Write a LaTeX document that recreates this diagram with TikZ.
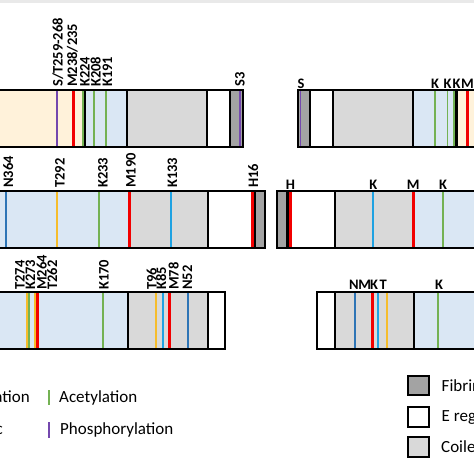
\documentclass[tikz,border=0pt]{standalone}
\usepackage{fontspec}
\setmainfont{Carlito}
\definecolor{ccream}{HTML}{FFF2DA}
\definecolor{cregb}{HTML}{DAE7F4}
\definecolor{cgray}{HTML}{D9D9D9}
\definecolor{cdark}{HTML}{A3A3A3}
\definecolor{cgreen}{HTML}{74B253}
\definecolor{cpurple}{HTML}{7448AE}
\definecolor{cred}{HTML}{F20000}
\definecolor{cyellow}{HTML}{F6BD2C}
\definecolor{cdblue}{HTML}{2E75B6}
\definecolor{clblue}{HTML}{1FA2E2}
\definecolor{cband}{HTML}{E9E9E9}
\tikzset{
  bar/.style={draw=black,line width=2.2pt},
  sepl/.style={draw=black,line width=2.1pt},
  mk/.style={line width=1.8pt},
  ace/.style={mk,draw=cgreen},
  pho/.style={mk,draw=cpurple},
  met/.style={line width=3pt,draw=cred},
  ogl/.style={mk,draw=cyellow},
  gly/.style={mk,draw=cdblue},
  ubi/.style={mk,draw=clblue},
  vlab/.style={rotate=90,anchor=base west,inner sep=0pt,font=\fontsize{14.5}{14.5}\selectfont\bfseries},
  hlab/.style={anchor=base,inner sep=0pt,font=\fontsize{14.5}{14.5}\selectfont\bfseries},
  legt/.style={anchor=base west,inner sep=0pt,font=\fontsize{17}{17}\selectfont},
  legr/.style={anchor=base east,inner sep=0pt,font=\fontsize{17}{17}\selectfont},
  legbox/.style={draw=black,line width=2.2pt},
}
\begin{document}
\begin{tikzpicture}[x=1pt,y=-1pt]
\useasboundingbox (0,0) rectangle (474,474);
\clip (0,0) rectangle (474,474);
\fill[white] (0,0) rectangle (474,474);
\fill[cband] (0,0) rectangle (474,3);

% ---------- Row 1 left ----------
\fill[ccream] (-5,90) rectangle (85,147);
\fill[cregb] (85,90) rectangle (126.7,147);
\fill[cgray] (126.7,90) rectangle (207.3,147);
\fill[cdark] (230,90) rectangle (243,147);
\foreach \x/\s in {56.7/pho,73.3/met,83/ace,94.3/ace,106/ace,240.3/pho}
  \draw[\s] (\x,90) -- (\x,147);
\foreach \x in {85,126.7,207.3,230} \draw[sepl] (\x,90) -- (\x,147);
\draw[bar] (-5,90) rectangle (243,147);
\node[vlab] (l1a) at (62.7,87) {S/T259-268};
\node[vlab] (l1b) at (77.2,87) {M238/235};
\node[vlab] (l1c) at (89.7,87) {K224};
\node[vlab] (l1d) at (100.7,87) {K208};
\node[vlab] (l1e) at (112.2,87) {K191};
\node[vlab] (l1f) at (244.7,87) {S3};

% ---------- Row 1 right ----------
\fill[cdark] (298.3,90) rectangle (310,147);
\fill[cgray] (333.3,90) rectangle (412.7,147);
\fill[cregb] (412.7,90) rectangle (456.5,147);
\fill[ccream] (456.5,90) rectangle (480,147);
\foreach \x/\s in {300.5/pho,435/ace,447.5/ace,454/ace,467.3/met}
  \draw[\s] (\x,90) -- (\x,147);
\foreach \x in {310,333.3,412.7,456.5} \draw[sepl] (\x,90) -- (\x,147);
\draw[bar] (298.3,90) rectangle (480,147);
\node[hlab] (r1a) at (301,88) {S};
\node[hlab] (r1b) at (435,88) {K};
\node[hlab] (r1c) at (447.5,88) {K};
\node[hlab] (r1d) at (456.5,88) {K};
\node[hlab] (r1e) at (467.5,88) {M};

% ---------- Row 2 left ----------
\fill[cregb] (-5,191) rectangle (128.7,248);
\fill[cgray] (128.7,191) rectangle (208.3,248);
\fill[cdark] (255,191) rectangle (265,248);
\foreach \x in {128.7,208.3,255} \draw[sepl] (\x,191) -- (\x,248);
\foreach \x/\s in {6/gly,57.3/ogl,99.3/ace,129.5/met,170.7/ubi,252.6/met}
  \draw[\s] (\x,191) -- (\x,248);
\draw[bar] (-5,191) rectangle (265,248);
\node[vlab] (l2a) at (13,188) {N364};
\node[vlab] (l2b) at (64.7,188) {T292};
\node[vlab] (l2c) at (107.7,188) {K233};
\node[vlab] (l2d) at (135.7,188) {M190};
\node[vlab] (l2e) at (177.2,188) {K133};
\node[vlab] (l2f) at (258,188) {H16};

% ---------- Row 2 right ----------
\fill[cdark] (277,191) rectangle (287.5,248);
\fill[cgray] (335,191) rectangle (413.3,248);
\fill[cregb] (413.3,191) rectangle (480,248);
\foreach \x in {287.5,335,413.3} \draw[sepl] (\x,191) -- (\x,248);
\foreach \x/\s in {290/met,372.7/ubi,413.3/met,443.3/ace}
  \draw[\s] (\x,191) -- (\x,248);
\draw[bar] (277,191) rectangle (480,248);
\node[hlab] (r2a) at (290.5,189) {H};
\node[hlab] (r2b) at (373.3,189) {K};
\node[hlab] (r2c) at (413.3,189) {M};
\node[hlab] (r2d) at (443,189) {K};

% ---------- Row 3 left ----------
\fill[cregb] (-5,292) rectangle (128.3,349);
\fill[cgray] (128.3,292) rectangle (208.3,349);
\foreach \x in {128.3,208.3} \draw[sepl] (\x,292) -- (\x,349);
\foreach \x/\s in {27/ogl,29.3/ace,35/ogl,37.3/met,102.7/ace,155.7/ogl,163.3/ubi,169/met,187.7/gly}
  \draw[\s] (\x,292) -- (\x,349);
\draw[bar] (-5,292) rectangle (225,349);
\node[vlab] (l3a) at (24.7,290) {T274};
\node[vlab] (l3b) at (35.2,290) {K273};
\node[vlab] (l3c) at (46.7,290) {M264};
\node[vlab] (l3d) at (57.2,290) {T262};
\node[vlab] (l3e) at (108.7,290) {K170};
\node[vlab] (l3f) at (156.7,290) {T96};
\node[vlab] (l3g) at (166.2,290) {K85};
\node[vlab] (l3h) at (178.7,290) {M78};
\node[vlab] (l3i) at (192.2,290) {N52};

% ---------- Row 3 right ----------
\fill[cgray] (335,292) rectangle (414.3,349);
\fill[cregb] (414.3,292) rectangle (480,349);
\foreach \x in {335,414.3} \draw[sepl] (\x,292) -- (\x,349);
\foreach \x/\s in {355/gly,372.7/met,378.3/ubi,386.7/ogl,438.3/ace}
  \draw[\s] (\x,292) -- (\x,349);
\draw[bar] (317.3,292) rectangle (480,349);
\node[hlab] (r3a) at (354,289) {N};
\node[hlab] (r3b) at (364.7,289) {M};
\node[hlab] (r3c) at (374.2,289) {K};
\node[hlab] (r3d) at (383.3,289) {T};
\node[hlab] (r3e) at (439.2,289) {K};

% ---------- Legend ----------
\node[legr] (lgm) at (30,402.7) {Methylation};
\node[legr] (lgo) at (3,434.3) {O-GlcNAc};
\draw[cgreen,line width=2pt] (49.3,390) -- (49.3,405);
\node[legt] (lga) at (59,402.7) {Acetylation};
\draw[cpurple,line width=2pt] (49.3,422) -- (49.3,438);
\node[legt] (lgp) at (60,434.3) {Phosphorylation};

\draw[legbox,fill=cdark] (408,376) rectangle (429,395);
\node[legt] (lgf) at (441.5,391.7) {Fibrinogen};
\draw[legbox,fill=white] (408,407) rectangle (429,427);
\node[legt] (lge) at (441.5,421.7) {E region};
\draw[legbox,fill=cgray] (408,437) rectangle (429,457);
\node[legt] (lgc) at (441,452) {Coiled coil};
\end{tikzpicture}
\end{document}
